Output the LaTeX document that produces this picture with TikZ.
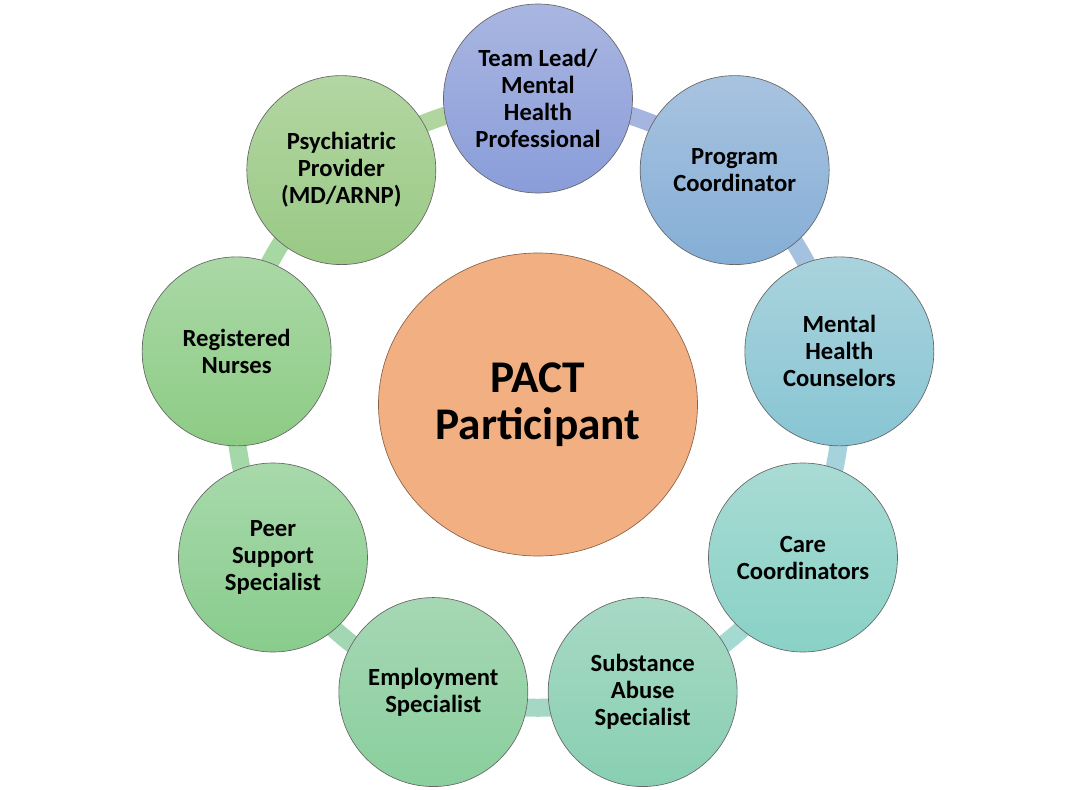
\documentclass[tikz,border=0pt]{standalone}
\usepackage{fontspec}
\setmainfont{Carlito}
\usepackage{tikz}
\usetikzlibrary{shapes.geometric}
\usetikzlibrary{backgrounds}
\tikzset{member/.style = {circle, draw=black!60, line width=0.5pt, inner sep=0,
                          minimum size=141.75pt, align=center,
                          font=\bfseries\fontsize{18.5}{20.25}\selectfont}}
\tikzset{link/.style = {line width=13.5pt, bend left=20, looseness=0.75}}
\definecolor{pactfill}{HTML}{F2AF82}
\definecolor{pactline}{HTML}{8A6248}
\definecolor{leadtop}{HTML}{A9B6E1}
\definecolor{leadbot}{HTML}{8A9DD9}
\definecolor{progtop}{HTML}{A8C3E0}
\definecolor{progbot}{HTML}{85AED6}
\definecolor{mhctop}{HTML}{A9D3DD}
\definecolor{mhcbot}{HTML}{88C5D3}
\definecolor{caretop}{HTML}{A8DBD4}
\definecolor{carebot}{HTML}{89D1C6}
\definecolor{subtop}{HTML}{A8D9C6}
\definecolor{subbot}{HTML}{88CFB2}
\definecolor{emptop}{HTML}{A6D7B4}
\definecolor{empbot}{HTML}{8ACF9D}
\definecolor{peertop}{HTML}{A8D9AC}
\definecolor{peerbot}{HTML}{88CC8C}
\definecolor{rntop}{HTML}{AAD8A6}
\definecolor{rnbot}{HTML}{8DCC85}
\definecolor{psychtop}{HTML}{B3D6A2}
\definecolor{psychbot}{HTML}{99C985}

\begin{document}
\begin{tikzpicture}[x=0.75pt, y=0.75pt]
      \useasboundingbox (-538, -385.5) rectangle (538, 404.5);
      \node [ellipse, draw=pactline, line width=0.5pt, fill=pactfill, inner sep=0,
             minimum width=239.25pt, minimum height=227.25pt, align=center,
             font=\bfseries\fontsize{34}{35.5}\selectfont] (pact) at (0, 0) {PACT\\Participant};
      \node [member, top color=leadtop, bottom color=leadbot] (lead) at (90:306) {Team Lead/\\Mental\\Health\\Professional};
      \node [member, top color=progtop, bottom color=progbot] (prog) at (50:306) {Program\\Coordinator};
      \node [member, top color=mhctop, bottom color=mhcbot] (mhc) at (10:306) {Mental\\Health\\Counselors};
      \node [member, top color=caretop, bottom color=carebot] (care) at (-30:306) {Care\\Coordinators};
      \node [member, top color=subtop, bottom color=subbot] (sub) at (-70:306) {Substance\\Abuse\\Specialist};
      \node [member, top color=emptop, bottom color=empbot] (emp) at (-110:306) {Employment\\Specialist};
      \node [member, top color=peertop, bottom color=peerbot] (peer) at (-150:306) {Peer\\Support\\Specialist};
      \node [member, top color=rntop, bottom color=rnbot] (rn) at (170:306) {Registered\\Nurses};
      \node [member, top color=psychtop, bottom color=psychbot] (psych) at (130:306) {Psychiatric\\Provider\\(MD/ARNP)};
      \begin{scope}[on background layer]
        \draw [link, leadtop!90!leadbot] (lead.center) to (prog.center);
        \draw [link, progtop!90!progbot] (prog.center) to (mhc.center);
        \draw [link, mhctop!90!mhcbot] (mhc.center) to (care.center);
        \draw [link, caretop!90!carebot] (care.center) to (sub.center);
        \draw [link, subtop!90!subbot] (sub.center) to (emp.center);
        \draw [link, emptop!90!empbot] (emp.center) to (peer.center);
        \draw [link, peertop!90!peerbot] (peer.center) to (rn.center);
        \draw [link, rntop!90!rnbot] (rn.center) to (psych.center);
        \draw [link, psychtop!90!psychbot] (psych.center) to (lead.center);
      \end{scope}
    \end{tikzpicture}
\end{document}
